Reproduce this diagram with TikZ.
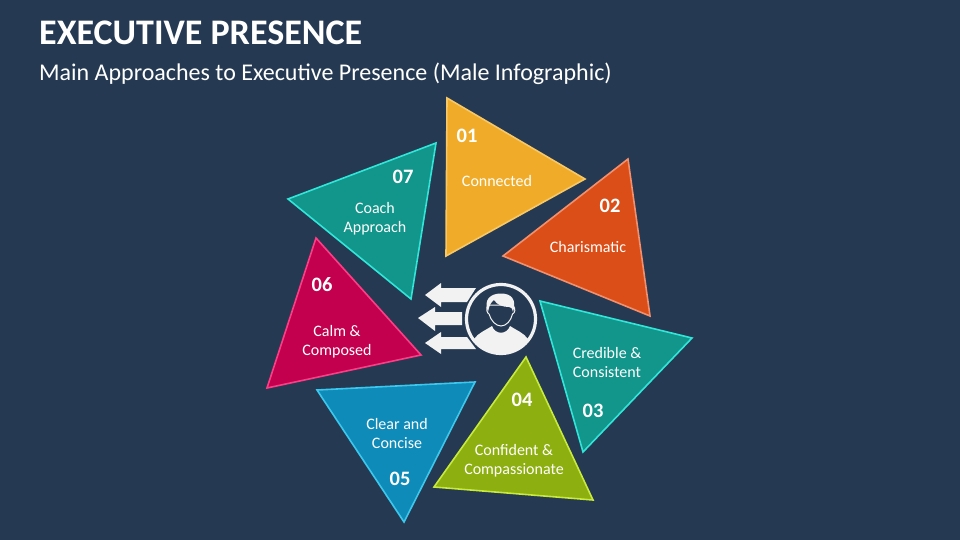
\documentclass[tikz,border=0pt]{standalone}
\usepackage{fontspec}
\setmainfont{Carlito}
\definecolor{bgblue}{HTML}{253A52}
\definecolor{iconwhite}{HTML}{F2F2F2}
\definecolor{amberfill}{HTML}{F0AC28}
\definecolor{amberline}{HTML}{F8C766}
\definecolor{rustfill}{HTML}{DB4E17}
\definecolor{rustline}{HTML}{F2906E}
\definecolor{tealfill}{HTML}{12958A}
\definecolor{tealline}{HTML}{30E6D8}
\definecolor{limefill}{HTML}{8DAF10}
\definecolor{limeline}{HTML}{C8EA3C}
\definecolor{bluefill}{HTML}{0E8BB8}
\definecolor{blueline}{HTML}{3CC8EE}
\definecolor{rosefill}{HTML}{C2004E}
\definecolor{roseline}{HTML}{FF3C86}
\tikzset{
  tribox/.style={line width=1.6pt, line join=miter},
  numlabel/.style={text=white, font=\fontsize{20.5}{20.5}\selectfont\bfseries, inner sep=0pt},
  caption/.style={text=white, font=\fontsize{16}{19}\selectfont, align=center, inner sep=0pt},
  arrowshape/.style={fill=iconwhite, draw=none}
}
\begin{document}
\begin{tikzpicture}[x=1pt,y=-1pt]
	\useasboundingbox (0,0) rectangle (960,540);
	\fill[bgblue] (0,0) rectangle (960,540);
	\node[anchor=base west, inner sep=0pt, text=white, font=\fontsize{36}{36}\selectfont\bfseries] (title) at (39,45) {EXECUTIVE PRESENCE};
	\node[anchor=base west, inner sep=0pt, text=white, font=\fontsize{24}{24}\selectfont] (subtitle) at (39,81) {Main Approaches to Executive Presence (Male Infographic)};

	\draw[tribox, fill=amberfill, draw=amberline] (447,98) -- (585,179) -- (446,256) -- cycle;
	\draw[tribox, fill=rustfill, draw=rustline] (628,159) -- (650,316) -- (503,256) -- cycle;
	\draw[tribox, fill=tealfill, draw=tealline] (540,301) -- (692,338) -- (583,452) -- cycle;
	\draw[tribox, fill=limefill, draw=limeline] (526,357) -- (593,500) -- (434,487) -- cycle;
	\draw[tribox, fill=bluefill, draw=blueline] (317,390) -- (475,382) -- (404,522) -- cycle;
	\draw[tribox, fill=rosefill, draw=roseline] (316,238) -- (421,355) -- (267,388) -- cycle;
	\draw[tribox, fill=tealfill, draw=tealline] (436,143) -- (411,299) -- (288,199) -- cycle;

	\foreach \x/\y/\num in {467/136/01, 610/206/02, 593/411/03, 522/400/04, 400/479/05, 322/285/06, 403/177/07}
	  {
	      \node[numlabel] (num\num) at (\x,\y) {\num};
	  }
	\foreach \x/\y/\nm/\txt in {497/181/a/{Connected}, 588/247/b/{Charismatic}, 607/363/c/{Credible \&\\Consistent},
	    514/461/d/{Confident \&\\Compassionate}, 397/433/e/{Clear and\\Concise}, 337/342/f/{Calm \&\\Composed}, 375/219/g/{Coach\\Approach}}
	  {
	      \node[caption] (cap\nm) at (\x,\y) {\txt};
	  }

	% arrows
	\fill[arrowshape] (425,295) -- (441,283) -- (441,288) -- (476,288) -- (467,302) -- (441,302) -- (441,307) -- cycle;
	\fill[arrowshape] (418,318) -- (435,307) -- (435,312) -- (462,312) -- (462,325) -- (435,325) -- (435,331) -- cycle;
	\fill[arrowshape] (425,343) -- (441,332) -- (441,337) -- (467,337) -- (476,349) -- (441,349) -- (441,354) -- cycle;

	% person
	\node[circle, draw=iconwhite, line width=3.2pt, fill=bgblue, minimum size=69pt, inner sep=0pt] (face) at (501,319) {};
	\fill[iconwhite] (474,339) .. controls (478,333) and (486,330) .. (492,326) .. controls (495,335) and (507,335) .. (510,326)
	  .. controls (516,330) and (524,333) .. (528,339) .. controls (522,349) and (512,354) .. (501,354) .. controls (490,354) and (480,349) .. (474,339) -- cycle;
	\draw[iconwhite, line width=1pt, fill=bgblue] (488,305) .. controls (485.5,309) and (487,313) .. (489,314) .. controls (491,321) and (496,326) .. (501,326) .. controls (506,326) and (511,321) .. (512.5,314) .. controls (515,313) and (516,309) .. (513,305) -- cycle;
	\fill[iconwhite] (488,312) .. controls (483,299) and (491,293.5) .. (501,293.5) .. controls (511,293.5) and (517,299) .. (513,312)
	  .. controls (512,308) and (511,307) .. (509,307) .. controls (503,307) and (497,305) .. (494,300) .. controls (491,302) and (489,306) .. (488,312) -- cycle;
\end{tikzpicture}
\end{document}
